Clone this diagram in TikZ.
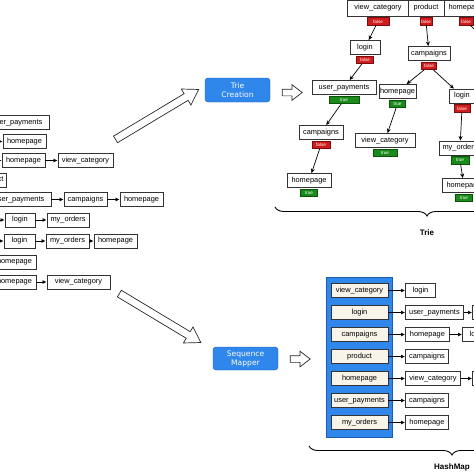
\documentclass[tikz,border=0pt]{standalone}
\usepackage{fontspec}
\setmainfont{Liberation Sans}
\newfontfamily\stagefont{DejaVu Sans}
\usetikzlibrary{arrows.meta,positioning,shapes.arrows,decorations.pathreplacing}
\definecolor{mapblue}{HTML}{2F86EB}
\definecolor{mapedge}{HTML}{1C5CAA}
\definecolor{keyfill}{HTML}{F8F4EA}
\definecolor{flagred}{HTML}{D01C1C}
\definecolor{flagredline}{HTML}{7A0E0E}
\definecolor{flaggreen}{HTML}{1A8A1A}
\definecolor{flaggreenline}{HTML}{0B520B}
\tikzset{
  pagebox/.style={draw=black!80, fill=white, line width=0.9pt, minimum height=14pt, inner sep=1pt, font=\fontsize{7.4}{8}\selectfont},
  keybox/.style={pagebox, fill=keyfill, minimum width=57pt},
  nofl/.style={draw=flagredline, fill=flagred, text=white, minimum width=17pt, minimum height=7.5pt, inner sep=0pt, font=\fontsize{4.6}{5}\selectfont},
  yesfl/.style={nofl, draw=flaggreenline, fill=flaggreen},
  link/.style={-{Latex[length=4pt,width=4pt]}, line width=0.7pt},
  treelink/.style={-{Stealth[length=4.5pt,width=4pt]}, line width=0.7pt},
  stage/.style={draw=mapedge, fill=mapblue, rounded corners=3pt, text=white, align=center, minimum width=65pt, minimum height=24pt, inner sep=1pt, font=\stagefont\fontsize{7.6}{9}\selectfont},
  hollow/.style={single arrow, draw=black!85, fill=white, line width=0.7pt, inner xsep=0pt, inner ysep=3.5pt, single arrow head extend=5.5pt, single arrow tip angle=65},
  bracket/.style={decorate, decoration={brace, amplitude=9pt}, line width=0.9pt},
  caption/.style={font=\bfseries\fontsize{8}{9}\selectfont}
}
\begin{document}
\begin{tikzpicture}[x=1pt,y=-1pt]
\useasboundingbox (0,0) rectangle (474,474);
\clip (0,0) rectangle (474,474);

\node[pagebox, minimum width=64pt] (a1) at (17,122.5) {user\_payments};

\coordinate (b0) at (-12,141.5);
\node[pagebox, minimum width=43pt] (b1) at (24.5,141.5) {homepage};
\draw[link] (b0) -- (b1);

\coordinate (c0) at (-12,160.5);
\node[pagebox, minimum width=43pt] (c1) at (23.5,160.5) {homepage};
\node[pagebox, minimum width=55pt] (c2) at (85.5,160.5) {view\_category};
\draw[link] (c0) -- (c1);
\draw[link] (c1) -- (c2);

\node[pagebox, minimum width=30pt] (d1) at (-9,180) {product};

\node[pagebox, minimum width=64pt] (e1) at (19,199.5) {user\_payments};
\node[pagebox, minimum width=43pt] (e2) at (85.5,199.5) {campaigns};
\node[pagebox, minimum width=43pt] (e3) at (141.5,199.5) {homepage};
\draw[link] (e1) -- (e2);
\draw[link] (e2) -- (e3);

\coordinate (f0) at (-12,220);
\node[pagebox, minimum width=30pt] (f1) at (20,220) {login};
\node[pagebox, minimum width=42pt] (f2) at (68,220) {my\_orders};
\draw[link] (f0) -- (f1);
\draw[link] (f1) -- (f2);

\coordinate (g0) at (-12,241);
\node[pagebox, minimum width=31pt] (g1) at (19.5,241) {login};
\node[pagebox, minimum width=43pt] (g2) at (67.5,241) {my\_orders};
\node[pagebox, minimum width=43pt] (g3) at (115.5,241) {homepage};
\draw[link] (g0) -- (g1);
\draw[link] (g1) -- (g2);
\draw[link] (g2) -- (g3);

\node[pagebox, minimum width=43pt] (h1) at (14.5,262) {homepage};

\node[pagebox, minimum width=43pt] (i1) at (14.5,282) {homepage};
\node[pagebox, minimum width=63pt] (i2) at (78.5,282) {view\_category};
\draw[link] (i1) -- (i2);

\node[hollow, minimum height=97pt, rotate=31] (up) at (154.5,116) {};
\node[hollow, minimum height=95pt, rotate=-31] (down) at (157.5,316.5) {};

\node[stage] (trie) at (237.5,90) {Trie\\Creation};
\node[stage, minimum height=23pt] (mapper) at (245.5,358.5) {Sequence\\Mapper};
\node[hollow, minimum height=20pt, inner ysep=3pt, single arrow head extend=4.5pt, single arrow tip angle=75] (tonext) at (290,92.5) {};
\node[hollow, minimum height=20pt, inner ysep=3pt, single arrow head extend=4.5pt, single arrow tip angle=75] (tomap) at (298,359) {};

\node[pagebox, minimum width=61pt, minimum height=16pt] (tv) at (378,8) {view\_category};
\node[pagebox, minimum width=36pt, minimum height=16pt] (tp) at (426,8) {product};
\node[pagebox, minimum width=44pt, minimum height=16pt] (th) at (466,8) {homepage};
\node[nofl, minimum width=22pt, below=1pt of tv] (tvf) {false};
\node[nofl, minimum width=12pt, below=1pt of tp] (tpf) {false};
\node[nofl, minimum width=14pt, below=1pt of th] (thf) {false};
\coordinate (thx) at (484,38);

\node[pagebox, minimum width=30pt] (tl1) at (365,47.5) {login};
\node[nofl, below=1pt of tl1] (tl1f) {false};
\node[pagebox, minimum width=42pt] (tc1) at (429,53.5) {campaigns};
\node[nofl, minimum width=15pt, below=1pt of tc1] (tc1f) {false};

\node[pagebox, minimum width=64pt] (tu) at (344,87.5) {user\_payments};
\node[yesfl, minimum width=30pt, below=1pt of tu] (tuf) {true};
\node[pagebox, minimum width=37pt] (th2) at (397.5,91.5) {homepage};
\node[yesfl, minimum width=16pt, below=1pt of th2] (th2f) {true};
\node[pagebox, minimum width=26pt] (tl2) at (462,96) {login};
\node[nofl, minimum width=16pt, below=1pt of tl2] (tl2f) {false};

\node[pagebox, minimum width=44pt] (tc2) at (321,132.5) {campaigns};
\node[nofl, minimum width=18pt, below=1pt of tc2] (tc2f) {false};
\node[pagebox, minimum width=60pt] (tvc) at (385,140.5) {view\_category};
\node[yesfl, minimum width=24pt, below=1pt of tvc] (tvcf) {true};
\node[pagebox, minimum width=42pt] (tm) at (460,148) {my\_orders};
\node[yesfl, minimum width=18pt, below=1pt of tm] (tmf) {true};

\node[pagebox, minimum width=44pt] (th3) at (309,180.5) {homepage};
\node[yesfl, below=1pt of th3] (th3f) {true};
\node[pagebox, minimum width=44pt] (th4) at (464,185.5) {homepage};
\node[yesfl, below=1pt of th4] (th4f) {true};

\draw[treelink] (tvf) -- (tl1);
\draw[treelink] (tpf) -- (tc1);
\draw[treelink] (thf) -- (thx);
\draw[treelink] (tl1f) -- (tu);
\draw[treelink] (tc1f) -- (th2);
\draw[treelink] (tc1f) -- (tl2);
\draw[treelink] (tuf) -- (tc2);
\draw[treelink] (th2f) -- (tvc);
\draw[treelink] (tl2f) -- (tm);
\draw[treelink] (tc2f) -- (th3);
\draw[treelink] (tmf) -- (th4);

\draw[bracket] (579,207) -- (275,207);
\node[caption] (trielabel) at (427,233) {Trie};

\node[draw=mapedge, fill=mapblue, line width=0.8pt, minimum width=66pt, minimum height=160pt] (map) at (359,357) {};
\foreach \k [count=\i from 0] in {view\_category,login,campaigns,product,homepage,user\_payments,my\_orders}{
\node[keybox] (k\i) at (359.5,290.5+22*\i) {\k};
}
\foreach \v/\w [count=\i from 0] in {login/30,user\_payments/58,homepage/44,campaigns/43,view\_category/55,campaigns/43,homepage/43}{
\node[pagebox, anchor=west, minimum width=\w pt] (v\i) at (405,290.5+22*\i) {\v};
\draw[link] (k\i) -- (v\i);
}
\node[pagebox, anchor=west, minimum width=43pt] (w1) at (472,312.5) {campaigns};
\node[pagebox, anchor=west, minimum width=30pt] (w2) at (462,334.5) {login};
\node[pagebox, anchor=west, minimum width=30pt] (w4) at (472,378.5) {login};
\draw[link] (v1) -- (w1);
\draw[link] (v2) -- (w2);
\draw[link] (v4) -- (w4);

\draw[bracket] (595,446) -- (309,446);
\node[caption] (maplabel) at (452,467) {HashMap};
\end{tikzpicture}
\end{document}
